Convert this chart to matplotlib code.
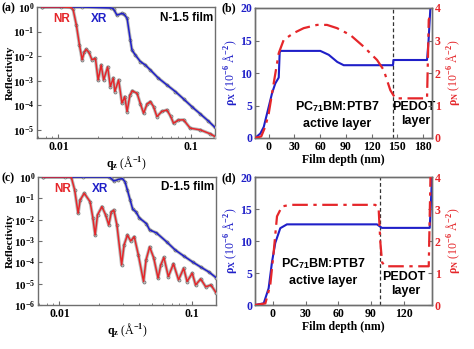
import numpy as np
import matplotlib
matplotlib.use("Agg")
import matplotlib.pyplot as plt
from matplotlib.ticker import NullFormatter, LogLocator

plt.rcParams['font.family'] = ['Liberation Serif', 'DejaVu Serif']
plt.rcParams['font.weight'] = 'bold'
plt.rcParams['mathtext.fontset'] = 'custom'
plt.rcParams['mathtext.rm'] = 'Liberation Serif:bold'
plt.rcParams['mathtext.bf'] = 'Liberation Serif:bold'
plt.rcParams['mathtext.it'] = 'Liberation Serif:italic:bold'
plt.rcParams['mathtext.sf'] = 'Liberation Sans:bold'
plt.rcParams['mathtext.default'] = 'rm'

# ---------------- data: panel (a) N-1.5 film ----------------
a_nr_q = [0.0075, 0.0105, 0.0125, 0.0129, 0.01365, 0.0144, 0.0151, 0.0156, 0.0162, 0.0170, 0.0179,
          0.0190, 0.0199, 0.0210, 0.0219, 0.0235, 0.0246, 0.0259, 0.0266, 0.0284, 0.0301,
          0.0316, 0.0329, 0.0345, 0.0360, 0.0391, 0.0415, 0.0438, 0.0465, 0.0492, 0.0520,
          0.0552, 0.0600, 0.0656, 0.0700, 0.0736, 0.0800, 0.0875, 0.0982, 0.117, 0.139, 0.151]
a_nr_logR = [0, 0, -0.02, -0.1, -0.73, -1.54, -2.15, -1.85, -1.72, -1.85, -2.15,
             -2.09, -2.97, -2.36, -2.97, -2.44, -3.24, -2.89, -3.44, -2.97, -3.91,
             -3.65, -4.26, -3.6, -3.41, -3.51, -3.95, -4.32, -3.95, -3.85, -4.05,
             -4.46, -4.25, -4.19, -4.45, -4.73, -4.6, -4.59, -4.93, -5.0, -5.16, -5.27]
a_xr_q = [0.0075, 0.0150, 0.0251, 0.0260, 0.0276, 0.0301, 0.0313, 0.0329, 0.0348, 0.0358,
          0.0379, 0.0414, 0.0451, 0.0492, 0.0565, 0.0656, 0.0759, 0.0875, 0.1018, 0.117,
          0.134, 0.151]
a_xr_logR = [0, 0, -0.04, -0.08, -0.33, -0.26, -0.30, -0.46, -1.34, -1.75,
             -1.95, -2.22, -2.36, -2.56, -2.89, -3.17, -3.44, -3.74, -4.07, -4.35,
             -4.63, -4.90]

# ---------------- data: panel (c) D-1.5 film ----------------
c_nr_q = [0.0075, 0.0110, 0.01228, 0.01303, 0.01383, 0.01433, 0.01538, 0.01702, 0.01787, 0.01858,
          0.01936, 0.0209, 0.0223, 0.02353, 0.0246, 0.0257, 0.0271, 0.0294, 0.0307, 0.0325,
          0.0344, 0.0366, 0.0393, 0.0430, 0.0449, 0.0478, 0.0513, 0.0553, 0.0580, 0.0612,
          0.0661, 0.0722, 0.0789, 0.0862, 0.0915, 0.1000, 0.106, 0.1158, 0.1265, 0.1383, 0.152]
c_nr_logR = [0, 0, 0, -0.61, -1.70, -1.08, -0.76, -1.16, -1.92, -2.72,
             -1.78, -1.39, -1.78, -2.25, -1.64, -1.55, -2.25, -4.12, -3.18, -2.72,
             -3.0, -2.80, -3.65, -4.90, -3.89, -3.28, -3.79, -4.74, -4.12, -3.77,
             -4.67, -4.07, -4.82, -4.28, -4.90, -4.51, -5.06, -4.78, -5.15, -5.06, -5.45]
c_xr_q = [0.0075, 0.0150, 0.0235, 0.0244, 0.0257, 0.0276, 0.0298, 0.0312, 0.0325, 0.0341,
          0.0356, 0.0378, 0.0400, 0.0451, 0.0478, 0.0538, 0.0642, 0.0744, 0.0862, 0.1005,
          0.1158, 0.1334, 0.152]
c_xr_logR = [0, 0, 0, -0.05, -0.19, -0.12, -0.07, -0.23, -0.61, -1.08,
             -1.50, -1.64, -1.92, -2.18, -2.48, -2.62, -3.04, -3.42, -3.70, -3.98,
             -4.22, -4.45, -4.73]

# ---------------- data: panel (b) profiles ----------------
b_x_depth = [-16, -9.8, -5.8, 0, 3.9, 7.7, 11.7, 12.8, 14, 60.2, 70, 80, 87.5, 145, 145.5, 184.7, 186.5, 188.6, 190.5]
b_x_rho = [0, 0.68, 1.7, 4.8, 6.9, 8.4, 9.3, 13.2, 13.4, 13.4, 12.8, 11.7, 11.2, 11.2, 12.0, 12.0, 15.0, 20.0, 20.0]
b_n_depth = [-16, -8.7, -4, 0, 5.8, 11.7, 17.5, 29.2, 40.8, 56.4, 68, 79.7, 95.2, 110.8, 126.4,
             134.2, 138, 141.9, 147.7, 184.7, 185.8, 186.7, 187.5]
b_n_rho = [0, 0.05, 0.35, 0.75, 1.68, 2.61, 3.02, 3.23, 3.38, 3.48, 3.48, 3.38, 3.17, 2.81, 2.40,
           2.09, 1.78, 1.47, 1.22, 1.22, 2.5, 3.64, 3.7]
b_interface = 145

# ---------------- data: panel (d) profiles ----------------
d_x_depth = [-16.5, -8.5, -4, -0.9, 2.1, 6.7, 12.8, 95.5, 100, 143.9, 145, 146]
d_x_rho = [0, 0.26, 2.6, 6.7, 9.7, 12.0, 12.6, 12.6, 12.05, 12.05, 16, 20]
d_n_depth = [-16.5, -7, -2.5, 0.6, 3.7, 8.3, 15.9, 94, 97, 98.6, 100.2, 103.2, 143, 144.6]
d_n_rho = [0, 0.05, 0.62, 1.64, 2.77, 3.08, 3.13, 3.13, 3.02, 1.95, 1.33, 1.21, 1.21, 4.0]
d_interface = 98.6

refl_ticks = {'a': [0, -1, -2, -3, -4, -5], 'c': [0, -1, -2, -3, -4, -5, -6]}

RED = '#e5262a'
BLUE = '#1f1fc8'
SPINE = '#6e6e6e'

fig = plt.figure(figsize=(4.74, 3.49), dpi=100)
W, H = 474.0, 349.0

def axrect(l, r, t, b):
    return [l / W, 1 - b / H, (r - l) / W, (b - t) / H]

ax_a = fig.add_axes(axrect(37, 215, 7, 138))
ax_b = fig.add_axes(axrect(255, 432, 8, 138))
ax_c = fig.add_axes(axrect(38, 216, 177, 305))
ax_d = fig.add_axes(axrect(255, 432, 177, 305))

FS = 8.5

def style_spines(ax):
    for s in ax.spines.values():
        s.set_color(SPINE)
        s.set_linewidth(1.0)

def refl_panel(ax, nr_q, nr_l, xr_q, xr_l, ylo, yticks, film, left_px):
    nr_R = [10 ** v for v in nr_l]
    xr_R = [10 ** v for v in xr_l]
    for q, R, col in ((xr_q, xr_R, BLUE), (nr_q, nr_R, RED)):
        ax.plot(q, R, color='#a8a8a8', lw=2.4, alpha=0.8, solid_capstyle='round', zorder=2)
        ax.plot(q, R, 'o', ms=2.2, mfc='#c0c0c0', mec='#707070', mew=0.5, zorder=3)
        ax.plot(q, R, color=col, lw=1.1, zorder=4)
    ax.set_xscale('log')
    ax.set_yscale('log')
    ax.set_xlim(0.0069, 0.151)
    ax.set_ylim(ylo, 1.0)
    ax.set_xticks([0.01, 0.1])
    ax.set_xticklabels(['0.01', '0.1'], fontsize=FS, fontweight='bold')
    ax.xaxis.set_minor_locator(LogLocator(base=10, subs=np.arange(2, 10) * 1.0))
    ax.xaxis.set_minor_formatter(NullFormatter())
    ax.set_yticks([10.0 ** t for t in yticks])
    ax.set_yticklabels([r'$\mathbf{10^{%d}}$' % t for t in yticks], fontsize=8)
    ax.yaxis.set_minor_locator(plt.NullLocator())
    ax.tick_params(which='both', direction='in', color=SPINE, top=False, right=False)
    ax.tick_params(which='major', length=3, pad=2)
    ax.tick_params(which='minor', length=1.8)
    ax.set_ylabel('Reflectivity', fontsize=8, fontweight='bold')
    ax.yaxis.set_label_coords((15 - left_px) / (215 - 37), 0.5)
    ax.set_xlabel(r'$q_z$ (Å$^{-1}$)', fontsize=FS, labelpad=1)
    style_spines(ax)
    ax.text(0.09, 0.955, 'NR', transform=ax.transAxes, color=RED, fontsize=FS,
            fontweight='bold', family='Liberation Sans', va='top', ha='left')
    ax.text(0.30, 0.955, 'XR', transform=ax.transAxes, color=BLUE, fontsize=FS,
            fontweight='bold', family='Liberation Sans', va='top', ha='left')
    ax.text(0.99, 0.965, film, transform=ax.transAxes, color='black', fontsize=FS,
            fontweight='bold', family='Liberation Sans', va='top', ha='right')

refl_panel(ax_a, a_nr_q, a_nr_logR, a_xr_q, a_xr_logR, 10 ** -5.33, refl_ticks['a'], 'N-1.5 film', 37)
refl_panel(ax_c, c_nr_q, c_nr_logR, c_xr_q, c_xr_logR, 1e-6, refl_ticks['c'], 'D-1.5 film', 38)

def profile_panel(ax, xd, xr, nd, nr, xlim, xticks, iface, txt_act, txt_ped):
    ax.plot(xd, xr, color=BLUE, lw=1.5, zorder=3)
    ax.set_xlim(*xlim)
    ax.set_ylim(0, 20)
    ax.set_xticks(xticks)
    ax.set_xticklabels([str(t) for t in xticks], fontsize=FS, fontweight='bold')
    ax.set_yticks([0, 5, 10, 15, 20])
    ax.set_yticklabels(['0', '5', '10', '15', '20'], fontsize=FS, fontweight='bold', color=BLUE)
    ax.tick_params(direction='in', length=3, pad=2, color=SPINE)
    ax.set_xlabel('Film depth (nm)', fontsize=FS, fontweight='bold', labelpad=1)
    ax.set_ylabel(r'$\rho_X$ (10$^{-6}$ Å$^{-2}$)', fontsize=FS, color=BLUE, labelpad=1)
    ax.axvline(iface, color='#333333', lw=0.9, ls=(0, (3, 2)), zorder=2)
    style_spines(ax)
    ax2 = ax.twinx()
    ax2.plot(nd, nr, color=RED, lw=1.6, ls=(0, (7, 2.5, 1.5, 2.5)), zorder=3)
    ax2.set_ylim(0, 4)
    ax2.set_yticks([0, 1, 2, 3, 4])
    ax2.set_yticklabels(['0', '1', '2', '3', '4'], fontsize=FS, fontweight='bold', color=RED)
    ax2.tick_params(direction='in', length=3, pad=2, color=SPINE)
    ax2.set_ylabel(r'$\rho_N$ (10$^{-6}$ Å$^{-2}$)', fontsize=FS, color=RED, labelpad=2)
    style_spines(ax2)
    x0, y0 = txt_act
    ax.text(x0, y0, r'PC$_{\mathsf{71}}$BM:PTB7', fontsize=9, fontweight='bold',
            family='Liberation Sans', ha='center', va='center')
    ax.text(x0, y0 - 2.6, 'active layer', fontsize=9, fontweight='bold',
            family='Liberation Sans', ha='center', va='center')
    x1, y1 = txt_ped
    ax.text(x1, y1, 'PEDOT', fontsize=9, fontweight='bold',
            family='Liberation Sans', ha='center', va='center')
    ax.text(x1 + 2, y1 - 2.2, 'layer', fontsize=9, fontweight='bold',
            family='Liberation Sans', ha='center', va='center')

profile_panel(ax_b, b_x_depth, b_x_rho, b_n_depth, b_n_rho, (-16, 190.5),
              [0, 30, 60, 90, 120, 150, 180], b_interface, (80, 4.8), (169, 4.8))
profile_panel(ax_d, d_x_depth, d_x_rho, d_n_depth, d_n_rho, (-16.5, 146),
              [0, 30, 60, 90, 120], d_interface, (46, 6.4), (120, 4.4))

for lab, x, y in (('(a)', 2, 8), ('(b)', 221, 8), ('(c)', 2, 178), ('(d)', 221, 178)):
    fig.text(x / W, 1 - y / H, lab, fontsize=FS, fontweight='bold', ha='left', va='center')

fig.savefig('out.png', dpi=100)
